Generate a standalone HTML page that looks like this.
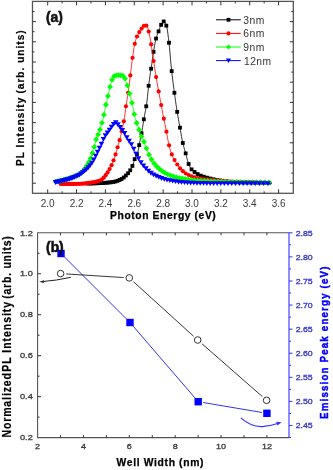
<!DOCTYPE html>
<html><head><meta charset="utf-8"><style>
html,body{margin:0;padding:0;background:#fff;width:333px;height:470px;overflow:hidden}
svg{display:block}
text{font-family:"Liberation Sans",Arial,sans-serif}
.tl{font-size:10px;fill:#3c3c3c}
.lab{font-size:10.3px;font-weight:bold;fill:#000;stroke:#000;stroke-width:0.25px}
.lab2{font-size:11.4px;font-weight:bold;fill:#000;stroke:#000;stroke-width:0.2px}
.blu{fill:#00f;stroke:#00f;stroke-width:0.45px}
.lab3{font-size:11.9px}
.pl{font-size:13.8px;font-weight:bold;fill:#111;stroke:#111;stroke-width:0.55px}
.lg{font-size:10.3px;fill:#333}
.tb{font-size:7.6px;fill:#3a3a3a;stroke:#3a3a3a;stroke-width:0.3px}
.tbr{fill:#33c;stroke:#33c}
</style></head><body>
<svg width="333" height="470" viewBox="0 0 333 470">
<rect x="32.5" y="1.4" width="260.8" height="191.9" fill="none" stroke="#555" stroke-width="1.3"/>
<path d="M47.7,193.3 v-4 M47.7,1.4 v4 M62.13,193.3 v-2 M62.13,1.4 v2 M76.56,193.3 v-4 M76.56,1.4 v4 M90.99,193.3 v-2 M90.99,1.4 v2 M105.42,193.3 v-4 M105.42,1.4 v4 M119.85,193.3 v-2 M119.85,1.4 v2 M134.28,193.3 v-4 M134.28,1.4 v4 M148.71,193.3 v-2 M148.71,1.4 v2 M163.14,193.3 v-4 M163.14,1.4 v4 M177.57,193.3 v-2 M177.57,1.4 v2 M192,193.3 v-4 M192,1.4 v4 M206.43,193.3 v-2 M206.43,1.4 v2 M220.86,193.3 v-4 M220.86,1.4 v4 M235.29,193.3 v-2 M235.29,1.4 v2 M249.72,193.3 v-4 M249.72,1.4 v4 M264.15,193.3 v-2 M264.15,1.4 v2 M278.58,193.3 v-4 M278.58,1.4 v4 M32.5,183.2 h3.4 M293.3,183.2 h-3.4 M32.5,173.1 h2 M293.3,173.1 h-2 M32.5,163 h3.4 M293.3,163 h-3.4 M32.5,152.9 h2 M293.3,152.9 h-2 M32.5,142.8 h3.4 M293.3,142.8 h-3.4 M32.5,132.7 h2 M293.3,132.7 h-2 M32.5,122.6 h3.4 M293.3,122.6 h-3.4 M32.5,112.5 h2 M293.3,112.5 h-2 M32.5,102.4 h3.4 M293.3,102.4 h-3.4 M32.5,92.3 h2 M293.3,92.3 h-2 M32.5,82.2 h3.4 M293.3,82.2 h-3.4 M32.5,72.1 h2 M293.3,72.1 h-2 M32.5,62 h3.4 M293.3,62 h-3.4 M32.5,51.9 h2 M293.3,51.9 h-2 M32.5,41.8 h3.4 M293.3,41.8 h-3.4 M32.5,31.7 h2 M293.3,31.7 h-2 M32.5,21.6 h3.4 M293.3,21.6 h-3.4 M32.5,11.5 h2 M293.3,11.5 h-2" stroke="#333" stroke-width="1" fill="none"/>
<text x="40.8" y="206.6" class="tl" textLength="13.8" lengthAdjust="spacing">2.0</text>
<text x="69.66" y="206.6" class="tl" textLength="13.8" lengthAdjust="spacing">2.2</text>
<text x="98.52" y="206.6" class="tl" textLength="13.8" lengthAdjust="spacing">2.4</text>
<text x="127.38" y="206.6" class="tl" textLength="13.8" lengthAdjust="spacing">2.6</text>
<text x="156.24" y="206.6" class="tl" textLength="13.8" lengthAdjust="spacing">2.8</text>
<text x="185.1" y="206.6" class="tl" textLength="13.8" lengthAdjust="spacing">3.0</text>
<text x="213.96" y="206.6" class="tl" textLength="13.8" lengthAdjust="spacing">3.2</text>
<text x="242.82" y="206.6" class="tl" textLength="13.8" lengthAdjust="spacing">3.4</text>
<text x="271.68" y="206.6" class="tl" textLength="13.8" lengthAdjust="spacing">3.6</text>
<text x="110.1" y="218.5" class="lab" textLength="105.7" lengthAdjust="spacing">Photon Energy (eV)</text>
<text transform="translate(24.4,166) rotate(-90) scale(0.88,1)" class="lab2" textLength="77.6" lengthAdjust="spacing">PL Intensity</text>
<text transform="translate(24.4,93.6) rotate(-90) scale(0.88,1)" class="lab2" textLength="71.9" lengthAdjust="spacing">(arb. units)</text>
<text x="45.9" y="21.7" class="pl">(a)</text>
<path d="M86,183.5 L86.5,183.5 L87,183.5 L87.5,183.49 L88,183.49 L88.5,183.48 L89,183.48 L89.5,183.47 L90,183.46 L90.5,183.45 L91,183.44 L91.5,183.42 L92,183.41 L92.5,183.39 L93,183.38 L93.5,183.36 L94,183.34 L94.5,183.33 L95,183.31 L95.5,183.29 L96,183.26 L96.5,183.24 L97,183.22 L97.5,183.2 L98,183.17 L98.5,183.15 L99,183.13 L99.5,183.1 L100,183.08 L100.5,183.05 L101,183.02 L101.5,183 L102,182.97 L102.5,182.94 L103,182.91 L103.5,182.89 L104,182.86 L104.5,182.83 L105,182.8 L105.5,182.77 L106,182.74 L106.5,182.71 L107,182.67 L107.5,182.63 L108,182.59 L108.5,182.55 L109,182.5 L109.5,182.45 L110,182.4 L110.5,182.35 L111,182.29 L111.5,182.23 L112,182.16 L112.5,182.09 L113,182.02 L113.5,181.93 L114,181.84 L114.5,181.73 L115,181.61 L115.5,181.48 L116,181.33 L116.5,181.17 L117,181 L117.5,180.82 L118,180.63 L118.5,180.43 L119,180.22 L119.5,180 L120,179.78 L120.5,179.54 L121,179.3 L121.5,179.04 L122,178.75 L122.5,178.42 L123,178.06 L123.5,177.68 L124,177.26 L124.5,176.82 L125,176.36 L125.5,175.89 L126,175.4 L126.5,174.9 L127,174.39 L127.5,173.85 L128,173.28 L128.5,172.68 L129,172.03 L129.5,171.35 L130,170.61 L130.5,169.83 L131,168.98 L131.5,168.01 L132,166.92 L132.5,165.74 L133,164.46 L133.5,163 L134,161.27 L134.5,159.59 L135,158.21 L135.5,157.07 L136,156.06 L136.5,155.08 L137,154.04 L137.5,152.82 L138,151.34 L138.5,149.26 L139,146.39 L139.5,143.28 L140,140.49 L140.5,138.07 L141,135.75 L141.5,133.35 L142,130.7 L142.5,127.76 L143,124.66 L143.5,121.53 L144,118.5 L144.5,115.7 L145,113.06 L145.5,110.44 L146,107.67 L146.5,104.63 L147,101.1 L147.5,96.7 L148,91.82 L148.5,87.02 L149,82.83 L149.5,79.14 L150,75.71 L150.5,72.42 L151,69.17 L151.5,65.87 L152,62.44 L152.5,58.91 L153,55.41 L153.5,52.06 L154,49 L154.5,46.14 L155,43.38 L155.5,40.85 L156,38.66 L156.5,36.87 L157,35.34 L157.5,33.98 L158,32.72 L158.5,31.49 L159,30.2 L159.5,28.79 L160,27.35 L160.5,26.04 L161,25 L161.5,24.15 L162,23.32 L162.5,22.57 L163,21.96 L163.5,21.55 L164,21.4 L164.5,21.65 L165,22.34 L165.5,23.38 L166,24.69 L166.5,26.17 L167,27.98 L167.5,30.82 L168,34.48 L168.5,38.62 L169,42.9 L169.5,47.71 L170,53.31 L170.5,59.15 L171,64.72 L171.5,69.54 L172,73.94 L172.5,78.11 L173,82.09 L173.5,85.95 L174,89.75 L174.5,93.5 L175,97.19 L175.5,100.79 L176,104.28 L176.5,107.63 L177,110.83 L177.5,113.86 L178,116.76 L178.5,119.56 L179,122.31 L179.5,125.05 L180,127.8 L180.5,130.64 L181,133.53 L181.5,136.39 L182,139.11 L182.5,141.59 L183,143.78 L183.5,145.75 L184,147.58 L184.5,149.31 L185,151 L185.5,152.7 L186,154.47 L186.5,156.37 L187,158.45 L187.5,160.51 L188,162.32 L188.5,163.71 L189,164.92 L189.5,166.02 L190,167.01 L190.5,167.89 L191,168.65 L191.5,169.3 L192,169.86 L192.5,170.35 L193,170.8 L193.5,171.21 L194,171.58 L194.5,171.94 L195,172.29 L195.5,172.64 L196,172.99 L196.5,173.32 L197,173.65 L197.5,173.96 L198,174.26 L198.5,174.55 L199,174.81 L199.5,175.06 L200,175.29 L200.5,175.5 L201,175.71 L201.5,175.9 L202,176.09 L202.5,176.27 L203,176.44 L203.5,176.6 L204,176.76 L204.5,176.92 L205,177.07 L205.5,177.22 L206,177.37 L206.5,177.51 L207,177.66 L207.5,177.8 L208,177.93 L208.5,178.07 L209,178.2 L209.5,178.33 L210,178.46 L210.5,178.58 L211,178.71 L211.5,178.82 L212,178.94 L212.5,179.05 L213,179.16 L213.5,179.26 L214,179.36 L214.5,179.46 L215,179.56 L215.5,179.65 L216,179.75 L216.5,179.85 L217,179.94 L217.5,180.04 L218,180.13 L218.5,180.23 L219,180.32 L219.5,180.41 L220,180.51 L220.5,180.59 L221,180.68 L221.5,180.77 L222,180.85 L222.5,180.93 L223,181.01 L223.5,181.09 L224,181.16 L224.5,181.24 L225,181.3 L225.5,181.37 L226,181.43 L226.5,181.49 L227,181.55 L227.5,181.6 L228,181.65 L228.5,181.69 L229,181.73 L229.5,181.77 L230,181.8 L230.5,181.83 L231,181.86 L231.5,181.88 L232,181.91 L232.5,181.93 L233,181.96 L233.5,181.98 L234,182 L234.5,182.03 L235,182.05 L235.5,182.07 L236,182.09 L236.5,182.11 L237,182.13 L237.5,182.14 L238,182.16 L238.5,182.18 L239,182.19 L239.5,182.21 L240,182.23 L240.5,182.24 L241,182.26 L241.5,182.27 L242,182.29 L242.5,182.3 L243,182.31 L243.5,182.33 L244,182.34 L244.5,182.35 L245,182.37 L245.5,182.38 L246,182.39 L246.5,182.41 L247,182.42 L247.5,182.43 L248,182.45 L248.5,182.46 L249,182.47 L249.5,182.49 L250,182.5 L250.5,182.51 L251,182.53 L251.5,182.54 L252,182.55 L252.5,182.57 L253,182.58 L253.5,182.59 L254,182.61 L254.5,182.62 L255,182.63 L255.5,182.65 L256,182.66 L256.5,182.67 L257,182.68 L257.5,182.7 L258,182.71 L258.5,182.72 L259,182.73 L259.5,182.75 L260,182.76 L260.5,182.77 L261,182.78 L261.5,182.79 L262,182.8 L262.5,182.82 L263,182.83 L263.5,182.84 L264,182.85 L264.5,182.86 L265,182.87 L265.5,182.88 L266,182.89 L266.5,182.9 L267,182.91 L267.5,182.92 L268,182.93 L268.5,182.94 L269,182.95 L269.5,182.96 L270,182.97 L270.5,182.97 L271,182.98 L271.5,182.99 L272,183" fill="none" stroke="#000" stroke-width="0.8"/>
<rect x="85.61" y="181.59" width="3.8" height="3.8" fill="#000"/>
<rect x="87.34" y="181.57" width="3.8" height="3.8" fill="#000"/>
<rect x="89.08" y="181.54" width="3.8" height="3.8" fill="#000"/>
<rect x="90.85" y="181.49" width="3.8" height="3.8" fill="#000"/>
<rect x="92.63" y="181.42" width="3.8" height="3.8" fill="#000"/>
<rect x="94.43" y="181.35" width="3.8" height="3.8" fill="#000"/>
<rect x="96.25" y="181.27" width="3.8" height="3.8" fill="#000"/>
<rect x="98.09" y="181.18" width="3.8" height="3.8" fill="#000"/>
<rect x="99.95" y="181.08" width="3.8" height="3.8" fill="#000"/>
<rect x="101.83" y="180.97" width="3.8" height="3.8" fill="#000"/>
<rect x="103.74" y="180.86" width="3.8" height="3.8" fill="#000"/>
<rect x="105.66" y="180.73" width="3.8" height="3.8" fill="#000"/>
<rect x="107.6" y="180.55" width="3.8" height="3.8" fill="#000"/>
<rect x="109.57" y="180.33" width="3.8" height="3.8" fill="#000"/>
<rect x="111.56" y="180.04" width="3.8" height="3.8" fill="#000"/>
<rect x="113.57" y="179.58" width="3.8" height="3.8" fill="#000"/>
<rect x="115.61" y="178.92" width="3.8" height="3.8" fill="#000"/>
<rect x="117.66" y="178.08" width="3.8" height="3.8" fill="#000"/>
<rect x="119.75" y="177.06" width="3.8" height="3.8" fill="#000"/>
<rect x="121.85" y="175.57" width="3.8" height="3.8" fill="#000"/>
<rect x="123.98" y="173.62" width="3.8" height="3.8" fill="#000"/>
<rect x="126.14" y="171.34" width="3.8" height="3.8" fill="#000"/>
<rect x="128.32" y="168.38" width="3.8" height="3.8" fill="#000"/>
<rect x="130.52" y="164.03" width="3.8" height="3.8" fill="#000"/>
<rect x="132.76" y="157.22" width="3.8" height="3.8" fill="#000"/>
<rect x="135.02" y="152.32" width="3.8" height="3.8" fill="#000"/>
<rect x="137.3" y="143.21" width="3.8" height="3.8" fill="#000"/>
<rect x="139.62" y="131.35" width="3.8" height="3.8" fill="#000"/>
<rect x="141.96" y="117.41" width="3.8" height="3.8" fill="#000"/>
<rect x="144.34" y="104.38" width="3.8" height="3.8" fill="#000"/>
<rect x="146.74" y="83.88" width="3.8" height="3.8" fill="#000"/>
<rect x="149.17" y="66.82" width="3.8" height="3.8" fill="#000"/>
<rect x="151.63" y="49.95" width="3.8" height="3.8" fill="#000"/>
<rect x="154.13" y="36.66" width="3.8" height="3.8" fill="#000"/>
<rect x="156.65" y="29.46" width="3.8" height="3.8" fill="#000"/>
<rect x="159.21" y="22.92" width="3.8" height="3.8" fill="#000"/>
<rect x="161.8" y="19.56" width="3.8" height="3.8" fill="#000"/>
<rect x="164.42" y="23.74" width="3.8" height="3.8" fill="#000"/>
<rect x="167.08" y="40.85" width="3.8" height="3.8" fill="#000"/>
<rect x="169.78" y="69.22" width="3.8" height="3.8" fill="#000"/>
<rect x="172.51" y="90.9" width="3.8" height="3.8" fill="#000"/>
<rect x="175.27" y="109.98" width="3.8" height="3.8" fill="#000"/>
<rect x="178.07" y="125.75" width="3.8" height="3.8" fill="#000"/>
<rect x="180.91" y="141.1" width="3.8" height="3.8" fill="#000"/>
<rect x="183.79" y="151.47" width="3.8" height="3.8" fill="#000"/>
<rect x="186.71" y="162.09" width="3.8" height="3.8" fill="#000"/>
<rect x="189.67" y="167.48" width="3.8" height="3.8" fill="#000"/>
<rect x="192.67" y="170.09" width="3.8" height="3.8" fill="#000"/>
<rect x="195.71" y="172.13" width="3.8" height="3.8" fill="#000"/>
<rect x="198.8" y="173.69" width="3.8" height="3.8" fill="#000"/>
<rect x="201.92" y="174.81" width="3.8" height="3.8" fill="#000"/>
<rect x="205.1" y="175.76" width="3.8" height="3.8" fill="#000"/>
<rect x="208.31" y="176.61" width="3.8" height="3.8" fill="#000"/>
<rect x="211.58" y="177.36" width="3.8" height="3.8" fill="#000"/>
<rect x="214.89" y="178" width="3.8" height="3.8" fill="#000"/>
<rect x="218.25" y="178.63" width="3.8" height="3.8" fill="#000"/>
<rect x="221.66" y="179.2" width="3.8" height="3.8" fill="#000"/>
<rect x="225.13" y="179.65" width="3.8" height="3.8" fill="#000"/>
<rect x="228.64" y="179.93" width="3.8" height="3.8" fill="#000"/>
<rect x="232.21" y="180.11" width="3.8" height="3.8" fill="#000"/>
<rect x="235.83" y="180.25" width="3.8" height="3.8" fill="#000"/>
<rect x="239.5" y="180.37" width="3.8" height="3.8" fill="#000"/>
<rect x="243.24" y="180.47" width="3.8" height="3.8" fill="#000"/>
<rect x="247.03" y="180.57" width="3.8" height="3.8" fill="#000"/>
<rect x="250.88" y="180.68" width="3.8" height="3.8" fill="#000"/>
<rect x="254.79" y="180.78" width="3.8" height="3.8" fill="#000"/>
<rect x="258.77" y="180.87" width="3.8" height="3.8" fill="#000"/>
<rect x="262.81" y="180.96" width="3.8" height="3.8" fill="#000"/>
<rect x="266.91" y="181.04" width="3.8" height="3.8" fill="#000"/>
<path d="M60,184 L60.5,184 L61,184 L61.5,184 L62,184 L62.5,184 L63,184 L63.5,183.99 L64,183.99 L64.5,183.99 L65,183.99 L65.5,183.98 L66,183.98 L66.5,183.98 L67,183.98 L67.5,183.97 L68,183.97 L68.5,183.96 L69,183.96 L69.5,183.95 L70,183.95 L70.5,183.94 L71,183.94 L71.5,183.93 L72,183.93 L72.5,183.92 L73,183.92 L73.5,183.91 L74,183.9 L74.5,183.89 L75,183.89 L75.5,183.88 L76,183.87 L76.5,183.86 L77,183.86 L77.5,183.85 L78,183.84 L78.5,183.83 L79,183.82 L79.5,183.81 L80,183.8 L80.5,183.79 L81,183.77 L81.5,183.74 L82,183.72 L82.5,183.68 L83,183.64 L83.5,183.6 L84,183.55 L84.5,183.5 L85,183.45 L85.5,183.39 L86,183.33 L86.5,183.27 L87,183.21 L87.5,183.14 L88,183.08 L88.5,183.01 L89,182.94 L89.5,182.87 L90,182.8 L90.5,182.73 L91,182.66 L91.5,182.58 L92,182.5 L92.5,182.42 L93,182.34 L93.5,182.25 L94,182.15 L94.5,182.05 L95,181.95 L95.5,181.84 L96,181.72 L96.5,181.6 L97,181.47 L97.5,181.33 L98,181.18 L98.5,181.02 L99,180.86 L99.5,180.68 L100,180.5 L100.5,180.28 L101,180 L101.5,179.67 L102,179.3 L102.5,178.9 L103,178.46 L103.5,178 L104,177.47 L104.5,176.85 L105,176.17 L105.5,175.48 L106,174.79 L106.5,174.09 L107,173.37 L107.5,172.63 L108,171.85 L108.5,171.03 L109,170.17 L109.5,169.27 L110,168.32 L110.5,167.33 L111,166.31 L111.5,165.24 L112,164.12 L112.5,162.95 L113,161.72 L113.5,160.44 L114,159.08 L114.5,157.66 L115,156.16 L115.5,154.6 L116,152.94 L116.5,151.19 L117,149.38 L117.5,147.57 L118,145.8 L118.5,144.1 L119,142.4 L119.5,140.65 L120,138.79 L120.5,136.76 L121,134.56 L121.5,132.26 L122,129.91 L122.5,127.58 L123,125.32 L123.5,123 L124,120.43 L124.5,117.38 L125,113.65 L125.5,109.7 L126,106 L126.5,102.75 L127,99.72 L127.5,96.71 L128,93.55 L128.5,90.05 L129,86.17 L129.5,82.06 L130,77.88 L130.5,73.8 L131,69.76 L131.5,65.68 L132,61.69 L132.5,57.92 L133,54.4 L133.5,50.93 L134,47.7 L134.5,44.93 L135,42.74 L135.5,40.86 L136,39.22 L136.5,37.78 L137,36.51 L137.5,35.38 L138,34.36 L138.5,33.43 L139,32.54 L139.5,31.7 L140,30.91 L140.5,30.16 L141,29.44 L141.5,28.74 L142,28 L142.5,27.23 L143,26.56 L143.5,26.13 L144,25.82 L144.5,25.55 L145,25.37 L145.5,25.3 L146,25.39 L146.5,25.64 L147,26 L147.5,26.94 L148,28.63 L148.5,30.61 L149,32.67 L149.5,35.07 L150,37.74 L150.5,40.58 L151,43.5 L151.5,46.58 L152,49.91 L152.5,53.36 L153,56.81 L153.5,60.16 L154,63.47 L154.5,66.78 L155,70.05 L155.5,73.24 L156,76.31 L156.5,79.29 L157,82.19 L157.5,85.04 L158,87.83 L158.5,90.6 L159,93.3 L159.5,95.95 L160,98.59 L160.5,101.23 L161,103.91 L161.5,106.63 L162,109.35 L162.5,112.05 L163,114.68 L163.5,117.23 L164,119.7 L164.5,122.12 L165,124.54 L165.5,126.98 L166,129.49 L166.5,132.13 L167,134.92 L167.5,137.72 L168,140.37 L168.5,142.75 L169,144.96 L169.5,147.06 L170,149.01 L170.5,150.76 L171,152.29 L171.5,153.66 L172,154.93 L172.5,156.1 L173,157.19 L173.5,158.21 L174,159.18 L174.5,160.07 L175,160.91 L175.5,161.7 L176,162.47 L176.5,163.24 L177,164.04 L177.5,164.85 L178,165.66 L178.5,166.43 L179,167.15 L179.5,167.8 L180,168.38 L180.5,168.92 L181,169.42 L181.5,169.9 L182,170.35 L182.5,170.8 L183,171.24 L183.5,171.68 L184,172.1 L184.5,172.51 L185,172.9 L185.5,173.27 L186,173.61 L186.5,173.92 L187,174.21 L187.5,174.48 L188,174.74 L188.5,174.99 L189,175.22 L189.5,175.45 L190,175.67 L190.5,175.88 L191,176.08 L191.5,176.28 L192,176.49 L192.5,176.68 L193,176.87 L193.5,177.06 L194,177.23 L194.5,177.4 L195,177.55 L195.5,177.68 L196,177.8 L196.5,177.91 L197,178.01 L197.5,178.1 L198,178.19 L198.5,178.28 L199,178.36 L199.5,178.43 L200,178.51 L200.5,178.58 L201,178.64 L201.5,178.71 L202,178.77 L202.5,178.84 L203,178.9 L203.5,178.96 L204,179.02 L204.5,179.08 L205,179.14 L205.5,179.2 L206,179.25 L206.5,179.31 L207,179.36 L207.5,179.41 L208,179.46 L208.5,179.51 L209,179.56 L209.5,179.61 L210,179.66 L210.5,179.71 L211,179.75 L211.5,179.8 L212,179.85 L212.5,179.89 L213,179.94 L213.5,179.98 L214,180.03 L214.5,180.07 L215,180.11 L215.5,180.16 L216,180.2 L216.5,180.24 L217,180.29 L217.5,180.33 L218,180.38 L218.5,180.42 L219,180.47 L219.5,180.51 L220,180.56 L220.5,180.61 L221,180.65 L221.5,180.7 L222,180.74 L222.5,180.79 L223,180.84 L223.5,180.88 L224,180.93 L224.5,180.97 L225,181.02 L225.5,181.06 L226,181.11 L226.5,181.15 L227,181.2 L227.5,181.24 L228,181.28 L228.5,181.32 L229,181.36 L229.5,181.4 L230,181.44 L230.5,181.48 L231,181.52 L231.5,181.56 L232,181.59 L232.5,181.63 L233,181.66 L233.5,181.69 L234,181.73 L234.5,181.76 L235,181.79 L235.5,181.81 L236,181.84 L236.5,181.87 L237,181.89 L237.5,181.91 L238,181.93 L238.5,181.95 L239,181.97 L239.5,181.99 L240,182 L240.5,182.01 L241,182.03 L241.5,182.04 L242,182.05 L242.5,182.07 L243,182.08 L243.5,182.09 L244,182.1 L244.5,182.12 L245,182.13 L245.5,182.14 L246,182.15 L246.5,182.16 L247,182.18 L247.5,182.19 L248,182.2 L248.5,182.21 L249,182.22 L249.5,182.23 L250,182.24 L250.5,182.25 L251,182.26 L251.5,182.27 L252,182.28 L252.5,182.29 L253,182.3 L253.5,182.31 L254,182.32 L254.5,182.33 L255,182.34 L255.5,182.35 L256,182.36 L256.5,182.37 L257,182.37 L257.5,182.38 L258,182.39 L258.5,182.4 L259,182.4 L259.5,182.41 L260,182.42 L260.5,182.42 L261,182.43 L261.5,182.44 L262,182.44 L262.5,182.45 L263,182.45 L263.5,182.46 L264,182.46 L264.5,182.47 L265,182.47 L265.5,182.47 L266,182.48 L266.5,182.48 L267,182.48 L267.5,182.49 L268,182.49 L268.5,182.49 L269,182.49 L269.5,182.5 L270,182.5 L270.5,182.5 L271,182.5 L271.5,182.5 L272,182.5" fill="none" stroke="#f00" stroke-width="0.8"/>
<circle cx="60.75" cy="184" r="2.1" fill="#f00"/>
<circle cx="62.2" cy="184" r="2.1" fill="#f00"/>
<circle cx="63.67" cy="183.99" r="2.1" fill="#f00"/>
<circle cx="65.16" cy="183.99" r="2.1" fill="#f00"/>
<circle cx="66.66" cy="183.98" r="2.1" fill="#f00"/>
<circle cx="68.17" cy="183.97" r="2.1" fill="#f00"/>
<circle cx="69.7" cy="183.95" r="2.1" fill="#f00"/>
<circle cx="71.24" cy="183.94" r="2.1" fill="#f00"/>
<circle cx="72.8" cy="183.92" r="2.1" fill="#f00"/>
<circle cx="74.38" cy="183.9" r="2.1" fill="#f00"/>
<circle cx="75.97" cy="183.87" r="2.1" fill="#f00"/>
<circle cx="77.58" cy="183.85" r="2.1" fill="#f00"/>
<circle cx="79.2" cy="183.82" r="2.1" fill="#f00"/>
<circle cx="80.84" cy="183.77" r="2.1" fill="#f00"/>
<circle cx="82.5" cy="183.68" r="2.1" fill="#f00"/>
<circle cx="84.17" cy="183.54" r="2.1" fill="#f00"/>
<circle cx="85.86" cy="183.35" r="2.1" fill="#f00"/>
<circle cx="87.57" cy="183.13" r="2.1" fill="#f00"/>
<circle cx="89.3" cy="182.9" r="2.1" fill="#f00"/>
<circle cx="91.05" cy="182.65" r="2.1" fill="#f00"/>
<circle cx="92.81" cy="182.37" r="2.1" fill="#f00"/>
<circle cx="94.6" cy="182.03" r="2.1" fill="#f00"/>
<circle cx="96.4" cy="181.62" r="2.1" fill="#f00"/>
<circle cx="98.22" cy="181.11" r="2.1" fill="#f00"/>
<circle cx="100.06" cy="180.48" r="2.1" fill="#f00"/>
<circle cx="101.92" cy="179.36" r="2.1" fill="#f00"/>
<circle cx="103.81" cy="177.69" r="2.1" fill="#f00"/>
<circle cx="105.71" cy="175.19" r="2.1" fill="#f00"/>
<circle cx="107.63" cy="172.43" r="2.1" fill="#f00"/>
<circle cx="109.58" cy="169.12" r="2.1" fill="#f00"/>
<circle cx="111.55" cy="165.14" r="2.1" fill="#f00"/>
<circle cx="113.54" cy="160.34" r="2.1" fill="#f00"/>
<circle cx="115.55" cy="154.45" r="2.1" fill="#f00"/>
<circle cx="117.58" cy="147.27" r="2.1" fill="#f00"/>
<circle cx="119.64" cy="140.14" r="2.1" fill="#f00"/>
<circle cx="121.72" cy="131.21" r="2.1" fill="#f00"/>
<circle cx="123.83" cy="121.34" r="2.1" fill="#f00"/>
<circle cx="125.96" cy="106.26" r="2.1" fill="#f00"/>
<circle cx="128.12" cy="92.76" r="2.1" fill="#f00"/>
<circle cx="130.3" cy="75.41" r="2.1" fill="#f00"/>
<circle cx="132.51" cy="57.86" r="2.1" fill="#f00"/>
<circle cx="134.74" cy="43.82" r="2.1" fill="#f00"/>
<circle cx="137" cy="36.5" r="2.1" fill="#f00"/>
<circle cx="139.29" cy="32.04" r="2.1" fill="#f00"/>
<circle cx="141.61" cy="28.59" r="2.1" fill="#f00"/>
<circle cx="143.95" cy="25.85" r="2.1" fill="#f00"/>
<circle cx="146.33" cy="25.54" r="2.1" fill="#f00"/>
<circle cx="148.73" cy="31.51" r="2.1" fill="#f00"/>
<circle cx="151.16" cy="44.47" r="2.1" fill="#f00"/>
<circle cx="153.63" cy="60.99" r="2.1" fill="#f00"/>
<circle cx="156.12" cy="77.04" r="2.1" fill="#f00"/>
<circle cx="158.65" cy="91.4" r="2.1" fill="#f00"/>
<circle cx="161.21" cy="105.03" r="2.1" fill="#f00"/>
<circle cx="163.8" cy="118.71" r="2.1" fill="#f00"/>
<circle cx="166.42" cy="131.72" r="2.1" fill="#f00"/>
<circle cx="169.08" cy="145.32" r="2.1" fill="#f00"/>
<circle cx="171.78" cy="154.38" r="2.1" fill="#f00"/>
<circle cx="174.51" cy="160.09" r="2.1" fill="#f00"/>
<circle cx="177.28" cy="164.49" r="2.1" fill="#f00"/>
<circle cx="180.08" cy="168.47" r="2.1" fill="#f00"/>
<circle cx="182.92" cy="171.17" r="2.1" fill="#f00"/>
<circle cx="185.8" cy="173.48" r="2.1" fill="#f00"/>
<circle cx="188.72" cy="175.1" r="2.1" fill="#f00"/>
<circle cx="191.68" cy="176.36" r="2.1" fill="#f00"/>
<circle cx="194.68" cy="177.45" r="2.1" fill="#f00"/>
<circle cx="197.73" cy="178.14" r="2.1" fill="#f00"/>
<circle cx="200.81" cy="178.62" r="2.1" fill="#f00"/>
<circle cx="203.94" cy="179.02" r="2.1" fill="#f00"/>
<circle cx="207.12" cy="179.37" r="2.1" fill="#f00"/>
<circle cx="210.34" cy="179.69" r="2.1" fill="#f00"/>
<circle cx="213.6" cy="179.99" r="2.1" fill="#f00"/>
<circle cx="216.92" cy="180.28" r="2.1" fill="#f00"/>
<circle cx="220.28" cy="180.59" r="2.1" fill="#f00"/>
<circle cx="223.69" cy="180.9" r="2.1" fill="#f00"/>
<circle cx="227.16" cy="181.21" r="2.1" fill="#f00"/>
<circle cx="230.67" cy="181.5" r="2.1" fill="#f00"/>
<circle cx="234.24" cy="181.74" r="2.1" fill="#f00"/>
<circle cx="237.86" cy="181.93" r="2.1" fill="#f00"/>
<circle cx="241.54" cy="182.04" r="2.1" fill="#f00"/>
<circle cx="245.28" cy="182.13" r="2.1" fill="#f00"/>
<circle cx="249.07" cy="182.22" r="2.1" fill="#f00"/>
<circle cx="252.93" cy="182.3" r="2.1" fill="#f00"/>
<circle cx="256.84" cy="182.37" r="2.1" fill="#f00"/>
<circle cx="260.82" cy="182.43" r="2.1" fill="#f00"/>
<circle cx="264.86" cy="182.47" r="2.1" fill="#f00"/>
<circle cx="268.97" cy="182.49" r="2.1" fill="#f00"/>
<path d="M55,181.8 L55.5,181.71 L56,181.62 L56.5,181.53 L57,181.44 L57.5,181.34 L58,181.24 L58.5,181.13 L59,181.03 L59.5,180.92 L60,180.81 L60.5,180.69 L61,180.58 L61.5,180.46 L62,180.34 L62.5,180.21 L63,180.09 L63.5,179.96 L64,179.83 L64.5,179.7 L65,179.57 L65.5,179.44 L66,179.3 L66.5,179.16 L67,179.02 L67.5,178.88 L68,178.73 L68.5,178.58 L69,178.43 L69.5,178.28 L70,178.12 L70.5,177.95 L71,177.79 L71.5,177.61 L72,177.44 L72.5,177.26 L73,177.08 L73.5,176.89 L74,176.7 L74.5,176.5 L75,176.3 L75.5,176.09 L76,175.89 L76.5,175.67 L77,175.45 L77.5,175.21 L78,174.96 L78.5,174.7 L79,174.42 L79.5,174.12 L80,173.8 L80.5,173.44 L81,173.04 L81.5,172.6 L82,172.12 L82.5,171.61 L83,171.07 L83.5,170.5 L84,169.88 L84.5,169.2 L85,168.46 L85.5,167.7 L86,166.91 L86.5,166.13 L87,165.34 L87.5,164.53 L88,163.68 L88.5,162.77 L89,161.8 L89.5,160.74 L90,159.6 L90.5,158.39 L91,157.1 L91.5,155.74 L92,154.23 L92.5,152.63 L93,151 L93.5,149.39 L94,147.74 L94.5,146 L95,144.03 L95.5,141.9 L96,139.87 L96.5,138.2 L97,136.87 L97.5,135.72 L98,134.65 L98.5,133.57 L99,132.39 L99.5,131.03 L100,129.48 L100.5,127.81 L101,126.09 L101.5,124.36 L102,122.6 L102.5,120.76 L103,118.79 L103.5,116.66 L104,114.39 L104.5,112.01 L105,109.42 L105.5,106.78 L106,104.38 L106.5,102.19 L107,100.1 L107.5,98.02 L108,95.86 L108.5,93.54 L109,91.18 L109.5,88.89 L110,86.8 L110.5,84.89 L111,83.08 L111.5,81.43 L112,80 L112.5,78.71 L113,77.58 L113.5,76.8 L114,76.29 L114.5,75.86 L115,75.55 L115.5,75.4 L116,75.34 L116.5,75.29 L117,75.25 L117.5,75.22 L118,75.2 L118.5,75.2 L119,75.21 L119.5,75.22 L120,75.24 L120.5,75.27 L121,75.31 L121.5,75.35 L122,75.4 L122.5,75.53 L123,75.81 L123.5,76.21 L124,76.71 L124.5,77.3 L125,78.34 L125.5,79.9 L126,81.5 L126.5,82.96 L127,84.44 L127.5,85.97 L128,87.6 L128.5,89.35 L129,91.22 L129.5,93.15 L130,95.12 L130.5,97.08 L131,99.04 L131.5,101.02 L132,103.05 L132.5,105.17 L133,107.44 L133.5,110.01 L134,112.72 L134.5,115.3 L135,117.5 L135.5,119.33 L136,121.01 L136.5,122.55 L137,124 L137.5,125.4 L138,126.77 L138.5,128.15 L139,129.57 L139.5,131.01 L140,132.43 L140.5,133.81 L141,135.14 L141.5,136.4 L142,137.56 L142.5,138.64 L143,139.68 L143.5,140.72 L144,141.81 L144.5,142.98 L145,144.26 L145.5,145.61 L146,147.02 L146.5,148.44 L147,149.84 L147.5,151.2 L148,152.48 L148.5,153.66 L149,154.71 L149.5,155.71 L150,156.68 L150.5,157.61 L151,158.52 L151.5,159.4 L152,160.24 L152.5,161.04 L153,161.81 L153.5,162.55 L154,163.24 L154.5,163.89 L155,164.5 L155.5,165.08 L156,165.64 L156.5,166.18 L157,166.7 L157.5,167.21 L158,167.69 L158.5,168.16 L159,168.62 L159.5,169.05 L160,169.47 L160.5,169.88 L161,170.27 L161.5,170.65 L162,171.01 L162.5,171.36 L163,171.7 L163.5,172.03 L164,172.34 L164.5,172.65 L165,172.95 L165.5,173.23 L166,173.51 L166.5,173.77 L167,174.02 L167.5,174.26 L168,174.49 L168.5,174.7 L169,174.9 L169.5,175.09 L170,175.28 L170.5,175.46 L171,175.64 L171.5,175.81 L172,175.98 L172.5,176.15 L173,176.31 L173.5,176.46 L174,176.62 L174.5,176.77 L175,176.91 L175.5,177.05 L176,177.19 L176.5,177.32 L177,177.45 L177.5,177.57 L178,177.69 L178.5,177.8 L179,177.91 L179.5,178.02 L180,178.12 L180.5,178.21 L181,178.3 L181.5,178.39 L182,178.47 L182.5,178.56 L183,178.64 L183.5,178.72 L184,178.8 L184.5,178.88 L185,178.96 L185.5,179.04 L186,179.11 L186.5,179.19 L187,179.26 L187.5,179.33 L188,179.4 L188.5,179.47 L189,179.54 L189.5,179.6 L190,179.67 L190.5,179.73 L191,179.79 L191.5,179.85 L192,179.91 L192.5,179.96 L193,180.02 L193.5,180.07 L194,180.12 L194.5,180.17 L195,180.22 L195.5,180.26 L196,180.31 L196.5,180.35 L197,180.39 L197.5,180.43 L198,180.47 L198.5,180.5 L199,180.54 L199.5,180.57 L200,180.6 L200.5,180.63 L201,180.66 L201.5,180.69 L202,180.71 L202.5,180.74 L203,180.77 L203.5,180.8 L204,180.82 L204.5,180.85 L205,180.87 L205.5,180.9 L206,180.93 L206.5,180.95 L207,180.98 L207.5,181 L208,181.02 L208.5,181.05 L209,181.07 L209.5,181.1 L210,181.12 L210.5,181.14 L211,181.16 L211.5,181.19 L212,181.21 L212.5,181.23 L213,181.25 L213.5,181.27 L214,181.29 L214.5,181.31 L215,181.33 L215.5,181.35 L216,181.37 L216.5,181.39 L217,181.41 L217.5,181.43 L218,181.45 L218.5,181.47 L219,181.48 L219.5,181.5 L220,181.52 L220.5,181.54 L221,181.55 L221.5,181.57 L222,181.58 L222.5,181.6 L223,181.62 L223.5,181.63 L224,181.65 L224.5,181.66 L225,181.68 L225.5,181.69 L226,181.7 L226.5,181.72 L227,181.73 L227.5,181.75 L228,181.76 L228.5,181.77 L229,181.78 L229.5,181.8 L230,181.81 L230.5,181.82 L231,181.83 L231.5,181.84 L232,181.85 L232.5,181.87 L233,181.88 L233.5,181.89 L234,181.9 L234.5,181.91 L235,181.92 L235.5,181.93 L236,181.93 L236.5,181.94 L237,181.95 L237.5,181.96 L238,181.97 L238.5,181.98 L239,181.99 L239.5,181.99 L240,182 L240.5,182.01 L241,182.01 L241.5,182.02 L242,182.03 L242.5,182.04 L243,182.04 L243.5,182.05 L244,182.06 L244.5,182.06 L245,182.07 L245.5,182.08 L246,182.09 L246.5,182.09 L247,182.1 L247.5,182.11 L248,182.11 L248.5,182.12 L249,182.13 L249.5,182.13 L250,182.14 L250.5,182.14 L251,182.15 L251.5,182.16 L252,182.16 L252.5,182.17 L253,182.17 L253.5,182.18 L254,182.19 L254.5,182.19 L255,182.2 L255.5,182.2 L256,182.21 L256.5,182.21 L257,182.22 L257.5,182.22 L258,182.23 L258.5,182.23 L259,182.24 L259.5,182.24 L260,182.25 L260.5,182.25 L261,182.25 L261.5,182.26 L262,182.26 L262.5,182.27 L263,182.27 L263.5,182.27 L264,182.27 L264.5,182.28 L265,182.28 L265.5,182.28 L266,182.29 L266.5,182.29 L267,182.29 L267.5,182.29 L268,182.29 L268.5,182.29 L269,182.3 L269.5,182.3 L270,182.3 L270.5,182.3 L271,182.3 L271.5,182.3 L272,182.3" fill="none" stroke="#0f0" stroke-width="0.8"/>
<path d="M55.87,178.75 L58.77,181.65 L55.87,184.55 L52.97,181.65Z" fill="#0f0"/>
<path d="M57.36,178.47 L60.26,181.37 L57.36,184.27 L54.46,181.37Z" fill="#0f0"/>
<path d="M58.86,178.16 L61.76,181.06 L58.86,183.96 L55.96,181.06Z" fill="#0f0"/>
<path d="M60.37,177.82 L63.27,180.72 L60.37,183.62 L57.47,180.72Z" fill="#0f0"/>
<path d="M61.9,177.46 L64.8,180.36 L61.9,183.26 L59,180.36Z" fill="#0f0"/>
<path d="M63.45,177.07 L66.35,179.97 L63.45,182.87 L60.55,179.97Z" fill="#0f0"/>
<path d="M65.01,176.67 L67.91,179.57 L65.01,182.47 L62.11,179.57Z" fill="#0f0"/>
<path d="M66.58,176.24 L69.48,179.14 L66.58,182.04 L63.68,179.14Z" fill="#0f0"/>
<path d="M68.18,175.78 L71.08,178.68 L68.18,181.58 L65.28,178.68Z" fill="#0f0"/>
<path d="M69.79,175.28 L72.69,178.18 L69.79,181.08 L66.89,178.18Z" fill="#0f0"/>
<path d="M71.41,174.74 L74.31,177.64 L71.41,180.54 L68.51,177.64Z" fill="#0f0"/>
<path d="M73.06,174.16 L75.96,177.06 L73.06,179.96 L70.16,177.06Z" fill="#0f0"/>
<path d="M74.72,173.51 L77.62,176.41 L74.72,179.31 L71.82,176.41Z" fill="#0f0"/>
<path d="M76.4,172.81 L79.3,175.71 L76.4,178.61 L73.5,175.71Z" fill="#0f0"/>
<path d="M78.1,172.01 L81,174.91 L78.1,177.81 L75.2,174.91Z" fill="#0f0"/>
<path d="M79.81,171.02 L82.71,173.92 L79.81,176.82 L76.91,173.92Z" fill="#0f0"/>
<path d="M81.54,169.66 L84.44,172.56 L81.54,175.46 L78.64,172.56Z" fill="#0f0"/>
<path d="M83.3,167.83 L86.2,170.73 L83.3,173.63 L80.4,170.73Z" fill="#0f0"/>
<path d="M85.07,165.46 L87.97,168.36 L85.07,171.26 L82.17,168.36Z" fill="#0f0"/>
<path d="M86.86,162.66 L89.76,165.56 L86.86,168.46 L83.96,165.56Z" fill="#0f0"/>
<path d="M88.67,159.55 L91.57,162.45 L88.67,165.35 L85.77,162.45Z" fill="#0f0"/>
<path d="M90.5,155.48 L93.4,158.38 L90.5,161.28 L87.6,158.38Z" fill="#0f0"/>
<path d="M92.35,150.2 L95.25,153.1 L92.35,156 L89.45,153.1Z" fill="#0f0"/>
<path d="M94.23,144.06 L97.13,146.96 L94.23,149.86 L91.33,146.96Z" fill="#0f0"/>
<path d="M96.12,136.53 L99.02,139.43 L96.12,142.33 L93.22,139.43Z" fill="#0f0"/>
<path d="M98.04,131.67 L100.94,134.57 L98.04,137.47 L95.14,134.57Z" fill="#0f0"/>
<path d="M99.97,126.67 L102.87,129.57 L99.97,132.47 L97.07,129.57Z" fill="#0f0"/>
<path d="M101.93,119.94 L104.83,122.84 L101.93,125.74 L99.03,122.84Z" fill="#0f0"/>
<path d="M103.91,111.89 L106.81,114.79 L103.91,117.69 L101.01,114.79Z" fill="#0f0"/>
<path d="M105.92,101.85 L108.82,104.75 L105.92,107.65 L103.02,104.75Z" fill="#0f0"/>
<path d="M107.95,93.19 L110.85,96.09 L107.95,98.99 L105.05,96.09Z" fill="#0f0"/>
<path d="M110,83.9 L112.9,86.8 L110,89.7 L107.1,86.8Z" fill="#0f0"/>
<path d="M112.08,76.9 L114.98,79.8 L112.08,82.7 L109.18,79.8Z" fill="#0f0"/>
<path d="M114.18,73.23 L117.08,76.13 L114.18,79.03 L111.28,76.13Z" fill="#0f0"/>
<path d="M116.3,72.41 L119.2,75.31 L116.3,78.21 L113.4,75.31Z" fill="#0f0"/>
<path d="M118.46,72.3 L121.36,75.2 L118.46,78.1 L115.56,75.2Z" fill="#0f0"/>
<path d="M120.63,72.38 L123.53,75.28 L120.63,78.18 L117.73,75.28Z" fill="#0f0"/>
<path d="M122.84,72.8 L125.74,75.7 L122.84,78.6 L119.94,75.7Z" fill="#0f0"/>
<path d="M125.07,75.65 L127.97,78.55 L125.07,81.45 L122.17,78.55Z" fill="#0f0"/>
<path d="M127.33,82.55 L130.23,85.45 L127.33,88.35 L124.43,85.45Z" fill="#0f0"/>
<path d="M129.62,90.72 L132.52,93.62 L129.62,96.52 L126.72,93.62Z" fill="#0f0"/>
<path d="M131.93,99.88 L134.83,102.78 L131.93,105.68 L129.03,102.78Z" fill="#0f0"/>
<path d="M134.28,111.29 L137.18,114.19 L134.28,117.09 L131.38,114.19Z" fill="#0f0"/>
<path d="M136.65,120.11 L139.55,123.01 L136.65,125.91 L133.75,123.01Z" fill="#0f0"/>
<path d="M139.06,126.85 L141.96,129.75 L139.06,132.65 L136.16,129.75Z" fill="#0f0"/>
<path d="M141.5,133.49 L144.4,136.39 L141.5,139.29 L138.6,136.39Z" fill="#0f0"/>
<path d="M143.96,138.83 L146.86,141.73 L143.96,144.63 L141.06,141.73Z" fill="#0f0"/>
<path d="M146.46,145.43 L149.36,148.33 L146.46,151.23 L143.56,148.33Z" fill="#0f0"/>
<path d="M149,151.8 L151.9,154.7 L149,157.6 L146.1,154.7Z" fill="#0f0"/>
<path d="M151.56,156.6 L154.46,159.5 L151.56,162.4 L148.66,159.5Z" fill="#0f0"/>
<path d="M154.16,160.55 L157.06,163.45 L154.16,166.35 L151.26,163.45Z" fill="#0f0"/>
<path d="M156.79,163.59 L159.69,166.49 L156.79,169.39 L153.89,166.49Z" fill="#0f0"/>
<path d="M159.46,166.12 L162.36,169.02 L159.46,171.92 L156.56,169.02Z" fill="#0f0"/>
<path d="M162.17,168.23 L165.07,171.13 L162.17,174.03 L159.27,171.13Z" fill="#0f0"/>
<path d="M164.91,170 L167.81,172.9 L164.91,175.8 L162.01,172.9Z" fill="#0f0"/>
<path d="M167.69,171.45 L170.59,174.35 L167.69,177.25 L164.79,174.35Z" fill="#0f0"/>
<path d="M170.51,172.56 L173.41,175.46 L170.51,178.36 L167.61,175.46Z" fill="#0f0"/>
<path d="M173.37,173.52 L176.27,176.42 L173.37,179.32 L170.47,176.42Z" fill="#0f0"/>
<path d="M176.27,174.36 L179.17,177.26 L176.27,180.16 L173.37,177.26Z" fill="#0f0"/>
<path d="M179.2,175.05 L182.1,177.95 L179.2,180.85 L176.3,177.95Z" fill="#0f0"/>
<path d="M182.18,175.6 L185.08,178.5 L182.18,181.4 L179.28,178.5Z" fill="#0f0"/>
<path d="M185.21,176.09 L188.11,178.99 L185.21,181.89 L182.31,178.99Z" fill="#0f0"/>
<path d="M188.27,176.54 L191.17,179.44 L188.27,182.34 L185.37,179.44Z" fill="#0f0"/>
<path d="M191.38,176.93 L194.28,179.83 L191.38,182.73 L188.48,179.83Z" fill="#0f0"/>
<path d="M194.54,177.27 L197.44,180.17 L194.54,183.07 L191.64,180.17Z" fill="#0f0"/>
<path d="M197.74,177.55 L200.64,180.45 L197.74,183.35 L194.84,180.45Z" fill="#0f0"/>
<path d="M200.99,177.76 L203.89,180.66 L200.99,183.56 L198.09,180.66Z" fill="#0f0"/>
<path d="M204.29,177.94 L207.19,180.84 L204.29,183.74 L201.39,180.84Z" fill="#0f0"/>
<path d="M207.64,178.11 L210.54,181.01 L207.64,183.91 L204.74,181.01Z" fill="#0f0"/>
<path d="M211.04,178.27 L213.94,181.17 L211.04,184.07 L208.14,181.17Z" fill="#0f0"/>
<path d="M214.49,178.41 L217.39,181.31 L214.49,184.21 L211.59,181.31Z" fill="#0f0"/>
<path d="M217.99,178.55 L220.89,181.45 L217.99,184.35 L215.09,181.45Z" fill="#0f0"/>
<path d="M221.55,178.67 L224.45,181.57 L221.55,184.47 L218.65,181.57Z" fill="#0f0"/>
<path d="M225.16,178.78 L228.06,181.68 L225.16,184.58 L222.26,181.68Z" fill="#0f0"/>
<path d="M228.83,178.88 L231.73,181.78 L228.83,184.68 L225.93,181.78Z" fill="#0f0"/>
<path d="M232.56,178.97 L235.46,181.87 L232.56,184.77 L229.66,181.87Z" fill="#0f0"/>
<path d="M236.35,179.04 L239.25,181.94 L236.35,184.84 L233.45,181.94Z" fill="#0f0"/>
<path d="M240.2,179.1 L243.1,182 L240.2,184.9 L237.3,182Z" fill="#0f0"/>
<path d="M244.11,179.16 L247.01,182.06 L244.11,184.96 L241.21,182.06Z" fill="#0f0"/>
<path d="M248.09,179.21 L250.99,182.11 L248.09,185.01 L245.19,182.11Z" fill="#0f0"/>
<path d="M252.13,179.26 L255.03,182.16 L252.13,185.06 L249.23,182.16Z" fill="#0f0"/>
<path d="M256.24,179.31 L259.14,182.21 L256.24,185.11 L253.34,182.21Z" fill="#0f0"/>
<path d="M260.42,179.35 L263.32,182.25 L260.42,185.15 L257.52,182.25Z" fill="#0f0"/>
<path d="M264.67,179.38 L267.57,182.28 L264.67,185.18 L261.77,182.28Z" fill="#0f0"/>
<path d="M268.99,179.4 L271.89,182.3 L268.99,185.2 L266.09,182.3Z" fill="#0f0"/>
<path d="M55,182.5 L55.5,182.41 L56,182.31 L56.5,182.21 L57,182.11 L57.5,182.01 L58,181.9 L58.5,181.8 L59,181.69 L59.5,181.58 L60,181.47 L60.5,181.35 L61,181.24 L61.5,181.12 L62,181 L62.5,180.88 L63,180.76 L63.5,180.63 L64,180.5 L64.5,180.38 L65,180.24 L65.5,180.11 L66,179.98 L66.5,179.84 L67,179.7 L67.5,179.56 L68,179.41 L68.5,179.26 L69,179.11 L69.5,178.96 L70,178.8 L70.5,178.64 L71,178.48 L71.5,178.31 L72,178.14 L72.5,177.96 L73,177.78 L73.5,177.6 L74,177.41 L74.5,177.22 L75,177.02 L75.5,176.81 L76,176.6 L76.5,176.38 L77,176.16 L77.5,175.93 L78,175.69 L78.5,175.44 L79,175.17 L79.5,174.89 L80,174.6 L80.5,174.29 L81,173.96 L81.5,173.62 L82,173.26 L82.5,172.88 L83,172.49 L83.5,172.09 L84,171.67 L84.5,171.24 L85,170.8 L85.5,170.35 L86,169.89 L86.5,169.42 L87,168.93 L87.5,168.42 L88,167.9 L88.5,167.35 L89,166.79 L89.5,166.2 L90,165.58 L90.5,164.94 L91,164.28 L91.5,163.57 L92,162.81 L92.5,161.99 L93,161.13 L93.5,160.23 L94,159.3 L94.5,158.37 L95,157.42 L95.5,156.43 L96,155.39 L96.5,154.33 L97,153.26 L97.5,152.18 L98,151.12 L98.5,150.09 L99,149.08 L99.5,148.08 L100,147.08 L100.5,146.06 L101,145 L101.5,143.87 L102,142.68 L102.5,141.48 L103,140.3 L103.5,139.21 L104,138.19 L104.5,137.22 L105,136.32 L105.5,135.5 L106,134.79 L106.5,134.15 L107,133.52 L107.5,132.86 L108,132.17 L108.5,131.45 L109,130.72 L109.5,129.99 L110,129.26 L110.5,128.53 L111,127.82 L111.5,127.13 L112,126.46 L112.5,125.77 L113,125.12 L113.5,124.52 L114,123.99 L114.5,123.45 L115,122.93 L115.5,122.55 L116,122.4 L116.5,122.73 L117,123.44 L117.5,124.12 L118,124.73 L118.5,125.35 L119,125.98 L119.5,126.61 L120,127.26 L120.5,127.89 L121,128.52 L121.5,129.15 L122,129.79 L122.5,130.44 L123,131.11 L123.5,131.81 L124,132.54 L124.5,133.32 L125,134.18 L125.5,135.11 L126,136.07 L126.5,137.03 L127,137.97 L127.5,138.84 L128,139.62 L128.5,140.36 L129,141.05 L129.5,141.73 L130,142.41 L130.5,143.11 L131,143.86 L131.5,144.67 L132,145.55 L132.5,146.49 L133,147.48 L133.5,148.51 L134,149.56 L134.5,150.63 L135,151.69 L135.5,152.73 L136,153.75 L136.5,154.74 L137,155.67 L137.5,156.6 L138,157.53 L138.5,158.45 L139,159.36 L139.5,160.25 L140,161.1 L140.5,161.92 L141,162.68 L141.5,163.4 L142,164.07 L142.5,164.71 L143,165.32 L143.5,165.91 L144,166.48 L144.5,167.03 L145,167.56 L145.5,168.08 L146,168.6 L146.5,169.1 L147,169.6 L147.5,170.1 L148,170.59 L148.5,171.08 L149,171.55 L149.5,172.01 L150,172.43 L150.5,172.83 L151,173.2 L151.5,173.54 L152,173.86 L152.5,174.17 L153,174.47 L153.5,174.75 L154,175.02 L154.5,175.29 L155,175.54 L155.5,175.79 L156,176.03 L156.5,176.27 L157,176.5 L157.5,176.73 L158,176.96 L158.5,177.18 L159,177.4 L159.5,177.61 L160,177.82 L160.5,178.02 L161,178.21 L161.5,178.4 L162,178.57 L162.5,178.74 L163,178.9 L163.5,179.05 L164,179.2 L164.5,179.34 L165,179.48 L165.5,179.61 L166,179.74 L166.5,179.86 L167,179.98 L167.5,180.09 L168,180.2 L168.5,180.3 L169,180.4 L169.5,180.5 L170,180.59 L170.5,180.68 L171,180.78 L171.5,180.87 L172,180.96 L172.5,181.05 L173,181.13 L173.5,181.22 L174,181.3 L174.5,181.38 L175,181.46 L175.5,181.54 L176,181.61 L176.5,181.68 L177,181.75 L177.5,181.82 L178,181.88 L178.5,181.94 L179,182 L179.5,182.06 L180,182.11 L180.5,182.16 L181,182.2 L181.5,182.24 L182,182.29 L182.5,182.33 L183,182.37 L183.5,182.41 L184,182.45 L184.5,182.49 L185,182.53 L185.5,182.57 L186,182.61 L186.5,182.65 L187,182.68 L187.5,182.72 L188,182.76 L188.5,182.79 L189,182.82 L189.5,182.86 L190,182.89 L190.5,182.92 L191,182.95 L191.5,182.98 L192,183.01 L192.5,183.04 L193,183.06 L193.5,183.09 L194,183.11 L194.5,183.13 L195,183.16 L195.5,183.18 L196,183.2 L196.5,183.21 L197,183.23 L197.5,183.25 L198,183.26 L198.5,183.27 L199,183.28 L199.5,183.29 L200,183.3 L200.5,183.31 L201,183.31 L201.5,183.32 L202,183.33 L202.5,183.34 L203,183.34 L203.5,183.35 L204,183.36 L204.5,183.36 L205,183.37 L205.5,183.38 L206,183.38 L206.5,183.39 L207,183.39 L207.5,183.4 L208,183.41 L208.5,183.41 L209,183.42 L209.5,183.42 L210,183.43 L210.5,183.43 L211,183.44 L211.5,183.45 L212,183.45 L212.5,183.46 L213,183.46 L213.5,183.47 L214,183.47 L214.5,183.48 L215,183.48 L215.5,183.49 L216,183.49 L216.5,183.49 L217,183.5 L217.5,183.5 L218,183.51 L218.5,183.51 L219,183.52 L219.5,183.52 L220,183.52 L220.5,183.53 L221,183.53 L221.5,183.53 L222,183.54 L222.5,183.54 L223,183.54 L223.5,183.55 L224,183.55 L224.5,183.55 L225,183.56 L225.5,183.56 L226,183.56 L226.5,183.56 L227,183.57 L227.5,183.57 L228,183.57 L228.5,183.57 L229,183.58 L229.5,183.58 L230,183.58 L230.5,183.58 L231,183.58 L231.5,183.59 L232,183.59 L232.5,183.59 L233,183.59 L233.5,183.59 L234,183.59 L234.5,183.59 L235,183.6 L235.5,183.6 L236,183.6 L236.5,183.6 L237,183.6 L237.5,183.6 L238,183.6 L238.5,183.6 L239,183.6 L239.5,183.6 L240,183.6 L240.5,183.6 L241,183.6 L241.5,183.6 L242,183.6 L242.5,183.6 L243,183.6 L243.5,183.6 L244,183.6 L244.5,183.6 L245,183.6 L245.5,183.6 L246,183.6 L246.5,183.6 L247,183.6 L247.5,183.6 L248,183.6 L248.5,183.6 L249,183.6 L249.5,183.6 L250,183.6 L250.5,183.6 L251,183.6 L251.5,183.6 L252,183.6 L252.5,183.6 L253,183.6 L253.5,183.6 L254,183.6 L254.5,183.6 L255,183.6 L255.5,183.6 L256,183.6 L256.5,183.6 L257,183.6 L257.5,183.6 L258,183.6 L258.5,183.6 L259,183.6 L259.5,183.6 L260,183.6 L260.5,183.6 L261,183.6 L261.5,183.6 L262,183.6 L262.5,183.6 L263,183.6 L263.5,183.6 L264,183.6 L264.5,183.6 L265,183.6 L265.5,183.6 L266,183.6 L266.5,183.6 L267,183.6 L267.5,183.6 L268,183.6 L268.5,183.6 L269,183.6 L269.5,183.6 L270,183.6 L270.5,183.6 L271,183.6 L271.5,183.6 L272,183.6" fill="none" stroke="#00f" stroke-width="0.8"/>
<path d="M52.73,180.1 L58.33,180.1 L55.53,184.9Z" fill="#00f"/>
<path d="M54.21,179.81 L59.81,179.81 L57.01,184.61Z" fill="#00f"/>
<path d="M55.7,179.5 L61.3,179.5 L58.5,184.3Z" fill="#00f"/>
<path d="M57.21,179.16 L62.81,179.16 L60.01,183.96Z" fill="#00f"/>
<path d="M58.74,178.81 L64.34,178.81 L61.54,183.61Z" fill="#00f"/>
<path d="M60.28,178.44 L65.88,178.44 L63.08,183.24Z" fill="#00f"/>
<path d="M61.84,178.04 L67.44,178.04 L64.64,182.84Z" fill="#00f"/>
<path d="M63.41,177.62 L69.01,177.62 L66.21,182.42Z" fill="#00f"/>
<path d="M65,177.17 L70.6,177.17 L67.8,181.97Z" fill="#00f"/>
<path d="M66.61,176.69 L72.21,176.69 L69.41,181.49Z" fill="#00f"/>
<path d="M68.23,176.17 L73.83,176.17 L71.03,180.97Z" fill="#00f"/>
<path d="M69.87,175.6 L75.47,175.6 L72.67,180.4Z" fill="#00f"/>
<path d="M71.53,174.98 L77.13,174.98 L74.33,179.78Z" fill="#00f"/>
<path d="M73.2,174.3 L78.8,174.3 L76,179.1Z" fill="#00f"/>
<path d="M74.89,173.54 L80.49,173.54 L77.69,178.34Z" fill="#00f"/>
<path d="M76.6,172.65 L82.2,172.65 L79.4,177.45Z" fill="#00f"/>
<path d="M78.33,171.57 L83.93,171.57 L81.13,176.37Z" fill="#00f"/>
<path d="M80.08,170.28 L85.68,170.28 L82.88,175.08Z" fill="#00f"/>
<path d="M81.85,168.81 L87.45,168.81 L84.65,173.61Z" fill="#00f"/>
<path d="M83.64,167.18 L89.24,167.18 L86.44,171.98Z" fill="#00f"/>
<path d="M85.44,165.34 L91.04,165.34 L88.24,170.14Z" fill="#00f"/>
<path d="M87.27,163.2 L92.87,163.2 L90.07,168Z" fill="#00f"/>
<path d="M89.12,160.64 L94.72,160.64 L91.92,165.44Z" fill="#00f"/>
<path d="M90.98,157.41 L96.58,157.41 L93.78,162.21Z" fill="#00f"/>
<path d="M92.87,153.78 L98.47,153.78 L95.67,158.58Z" fill="#00f"/>
<path d="M94.78,149.71 L100.38,149.71 L97.58,154.51Z" fill="#00f"/>
<path d="M96.71,145.76 L102.31,145.76 L99.51,150.56Z" fill="#00f"/>
<path d="M98.67,141.65 L104.27,141.65 L101.47,146.45Z" fill="#00f"/>
<path d="M100.64,137.02 L106.24,137.02 L103.44,141.82Z" fill="#00f"/>
<path d="M102.64,133.29 L108.24,133.29 L105.44,138.09Z" fill="#00f"/>
<path d="M104.67,130.61 L110.27,130.61 L107.47,135.41Z" fill="#00f"/>
<path d="M106.71,127.67 L112.31,127.67 L109.51,132.47Z" fill="#00f"/>
<path d="M108.78,124.72 L114.38,124.72 L111.58,129.52Z" fill="#00f"/>
<path d="M110.88,122.02 L116.48,122.02 L113.68,126.82Z" fill="#00f"/>
<path d="M113,120.13 L118.6,120.13 L115.8,124.93Z" fill="#00f"/>
<path d="M115.15,122.36 L120.75,122.36 L117.95,127.16Z" fill="#00f"/>
<path d="M117.32,125.11 L122.92,125.11 L120.12,129.91Z" fill="#00f"/>
<path d="M119.52,127.9 L125.12,127.9 L122.32,132.7Z" fill="#00f"/>
<path d="M121.74,131.09 L127.34,131.09 L124.54,135.89Z" fill="#00f"/>
<path d="M123.99,135.29 L129.59,135.29 L126.79,140.09Z" fill="#00f"/>
<path d="M126.28,138.85 L131.88,138.85 L129.08,143.65Z" fill="#00f"/>
<path d="M128.59,142.18 L134.19,142.18 L131.39,146.98Z" fill="#00f"/>
<path d="M130.92,146.68 L136.52,146.68 L133.72,151.48Z" fill="#00f"/>
<path d="M133.29,151.64 L138.89,151.64 L136.09,156.44Z" fill="#00f"/>
<path d="M135.69,156.13 L141.29,156.13 L138.49,160.93Z" fill="#00f"/>
<path d="M138.12,160.26 L143.72,160.26 L140.92,165.06Z" fill="#00f"/>
<path d="M140.58,163.47 L146.18,163.47 L143.38,168.27Z" fill="#00f"/>
<path d="M143.07,166.16 L148.67,166.16 L145.87,170.96Z" fill="#00f"/>
<path d="M145.59,168.68 L151.19,168.68 L148.39,173.48Z" fill="#00f"/>
<path d="M148.15,170.87 L153.75,170.87 L150.95,175.67Z" fill="#00f"/>
<path d="M150.74,172.47 L156.34,172.47 L153.54,177.27Z" fill="#00f"/>
<path d="M153.37,173.81 L158.97,173.81 L156.17,178.61Z" fill="#00f"/>
<path d="M156.03,175.02 L161.63,175.02 L158.83,179.82Z" fill="#00f"/>
<path d="M158.73,176.11 L164.33,176.11 L161.53,180.91Z" fill="#00f"/>
<path d="M161.46,176.97 L167.06,176.97 L164.26,181.77Z" fill="#00f"/>
<path d="M164.23,177.68 L169.83,177.68 L167.03,182.48Z" fill="#00f"/>
<path d="M167.04,178.26 L172.64,178.26 L169.84,183.06Z" fill="#00f"/>
<path d="M169.89,178.78 L175.49,178.78 L172.69,183.58Z" fill="#00f"/>
<path d="M172.78,179.25 L178.38,179.25 L175.58,184.05Z" fill="#00f"/>
<path d="M175.71,179.64 L181.31,179.64 L178.51,184.44Z" fill="#00f"/>
<path d="M178.68,179.94 L184.28,179.94 L181.48,184.74Z" fill="#00f"/>
<path d="M181.69,180.19 L187.29,180.19 L184.49,184.99Z" fill="#00f"/>
<path d="M184.74,180.42 L190.34,180.42 L187.54,185.22Z" fill="#00f"/>
<path d="M187.84,180.63 L193.44,180.63 L190.64,185.43Z" fill="#00f"/>
<path d="M190.99,180.8 L196.59,180.8 L193.79,185.6Z" fill="#00f"/>
<path d="M194.18,180.93 L199.78,180.93 L196.98,185.73Z" fill="#00f"/>
<path d="M197.42,181 L203.02,181 L200.22,185.8Z" fill="#00f"/>
<path d="M200.71,181.05 L206.31,181.05 L203.51,185.85Z" fill="#00f"/>
<path d="M204.04,181.09 L209.64,181.09 L206.84,185.89Z" fill="#00f"/>
<path d="M207.43,181.13 L213.03,181.13 L210.23,185.93Z" fill="#00f"/>
<path d="M210.87,181.17 L216.47,181.17 L213.67,185.97Z" fill="#00f"/>
<path d="M214.36,181.2 L219.96,181.2 L217.16,186Z" fill="#00f"/>
<path d="M217.9,181.23 L223.5,181.23 L220.7,186.03Z" fill="#00f"/>
<path d="M221.5,181.25 L227.1,181.25 L224.3,186.05Z" fill="#00f"/>
<path d="M225.16,181.27 L230.76,181.27 L227.96,186.07Z" fill="#00f"/>
<path d="M228.88,181.29 L234.48,181.29 L231.68,186.09Z" fill="#00f"/>
<path d="M232.65,181.3 L238.25,181.3 L235.45,186.1Z" fill="#00f"/>
<path d="M236.48,181.3 L242.08,181.3 L239.28,186.1Z" fill="#00f"/>
<path d="M240.38,181.3 L245.98,181.3 L243.18,186.1Z" fill="#00f"/>
<path d="M244.34,181.3 L249.94,181.3 L247.14,186.1Z" fill="#00f"/>
<path d="M248.37,181.3 L253.97,181.3 L251.17,186.1Z" fill="#00f"/>
<path d="M252.46,181.3 L258.06,181.3 L255.26,186.1Z" fill="#00f"/>
<path d="M256.62,181.3 L262.22,181.3 L259.42,186.1Z" fill="#00f"/>
<path d="M260.86,181.3 L266.46,181.3 L263.66,186.1Z" fill="#00f"/>
<path d="M265.16,181.3 L270.76,181.3 L267.96,186.1Z" fill="#00f"/>
<line x1="216" y1="19.8" x2="240.8" y2="19.8" stroke="#000" stroke-width="1"/>
<rect x="226.6" y="17.9" width="3.8" height="3.8" fill="#000"/>
<text x="243.2" y="23.7" class="lg" textLength="21.2" lengthAdjust="spacing">3nm</text>
<line x1="216" y1="33.4" x2="240.8" y2="33.4" stroke="#f00" stroke-width="1"/>
<circle cx="228.5" cy="33.4" r="2.1" fill="#f00"/>
<text x="243.2" y="37.3" class="lg" textLength="21.2" lengthAdjust="spacing">6nm</text>
<line x1="216" y1="47" x2="240.8" y2="47" stroke="#0f0" stroke-width="1"/>
<path d="M228.5,44.4 L231.1,47 L228.5,49.6 L225.9,47Z" fill="#0f0"/>
<text x="243.2" y="50.9" class="lg" textLength="21.2" lengthAdjust="spacing">9nm</text>
<line x1="216" y1="60.6" x2="240.8" y2="60.6" stroke="#00f" stroke-width="1"/>
<path d="M226.0,58.5 L231.0,58.5 L228.5,62.9Z" fill="#00f"/>
<text x="244" y="64.5" class="lg" textLength="27.0" lengthAdjust="spacing">12nm</text>
<path d="M289.0,232.8 H37.6 V437.6 H289.0" fill="none" stroke="#555" stroke-width="1.1"/>
<line x1="289.0" y1="232.8" x2="289.0" y2="437.6" stroke="#33f" stroke-width="1.1"/>
<path d="M60.53,437.6 v-2.5 M60.53,232.8 v2.5 M83.46,437.6 v-2.5 M83.46,232.8 v2.5 M106.39,437.6 v-2.5 M106.39,232.8 v2.5 M129.32,437.6 v-2.5 M129.32,232.8 v2.5 M152.25,437.6 v-2.5 M152.25,232.8 v2.5 M175.18,437.6 v-2.5 M175.18,232.8 v2.5 M198.11,437.6 v-2.5 M198.11,232.8 v2.5 M221.04,437.6 v-2.5 M221.04,232.8 v2.5 M243.97,437.6 v-2.5 M243.97,232.8 v2.5 M266.9,437.6 v-2.5 M266.9,232.8 v2.5 M37.6,253.28 h2 M37.6,273.76 h3.5 M37.6,294.24 h2 M37.6,314.72 h3.5 M37.6,335.2 h2 M37.6,355.68 h3.5 M37.6,376.16 h2 M37.6,396.64 h3.5 M37.6,417.12 h2" stroke="#333" stroke-width="1" fill="none"/>
<path d="M289.0,232.8 h3.5 M289.0,244.84 h2 M289.0,256.88 h3.5 M289.0,268.93 h2 M289.0,280.97 h3.5 M289.0,293.01 h2 M289.0,305.05 h3.5 M289.0,317.1 h2 M289.0,329.14 h3.5 M289.0,341.18 h2 M289.0,353.22 h3.5 M289.0,365.27 h2 M289.0,377.31 h3.5 M289.0,389.35 h2 M289.0,401.39 h3.5 M289.0,413.44 h2 M289.0,425.48 h3.5 M289.0,437.52 h2" stroke="#33f" stroke-width="1" fill="none"/>
<text x="20" y="235.5" class="tb" textLength="12.8" lengthAdjust="spacingAndGlyphs">1.2</text>
<text x="20" y="276.46" class="tb" textLength="12.8" lengthAdjust="spacingAndGlyphs">1.0</text>
<text x="20" y="317.42" class="tb" textLength="12.8" lengthAdjust="spacingAndGlyphs">0.8</text>
<text x="20" y="358.38" class="tb" textLength="12.8" lengthAdjust="spacingAndGlyphs">0.6</text>
<text x="20" y="399.34" class="tb" textLength="12.8" lengthAdjust="spacingAndGlyphs">0.4</text>
<text x="20" y="440.3" class="tb" textLength="12.8" lengthAdjust="spacingAndGlyphs">0.2</text>
<text x="35.1" y="448.9" class="tb" textLength="5.0" lengthAdjust="spacingAndGlyphs">2</text>
<text x="80.96" y="448.9" class="tb" textLength="5.0" lengthAdjust="spacingAndGlyphs">4</text>
<text x="126.82" y="448.9" class="tb" textLength="5.0" lengthAdjust="spacingAndGlyphs">6</text>
<text x="172.68" y="448.9" class="tb" textLength="5.0" lengthAdjust="spacingAndGlyphs">8</text>
<text x="216.04" y="448.9" class="tb" textLength="10.0" lengthAdjust="spacingAndGlyphs">10</text>
<text x="261.9" y="448.9" class="tb" textLength="10.0" lengthAdjust="spacingAndGlyphs">12</text>
<text x="295.7" y="235.5" class="tb tbr" textLength="17" lengthAdjust="spacingAndGlyphs">2.85</text>
<text x="295.7" y="259.58" class="tb tbr" textLength="17" lengthAdjust="spacingAndGlyphs">2.80</text>
<text x="295.7" y="283.67" class="tb tbr" textLength="17" lengthAdjust="spacingAndGlyphs">2.75</text>
<text x="295.7" y="307.75" class="tb tbr" textLength="17" lengthAdjust="spacingAndGlyphs">2.70</text>
<text x="295.7" y="331.84" class="tb tbr" textLength="17" lengthAdjust="spacingAndGlyphs">2.65</text>
<text x="295.7" y="355.93" class="tb tbr" textLength="17" lengthAdjust="spacingAndGlyphs">2.60</text>
<text x="295.7" y="380.01" class="tb tbr" textLength="17" lengthAdjust="spacingAndGlyphs">2.55</text>
<text x="295.7" y="404.1" class="tb tbr" textLength="17" lengthAdjust="spacingAndGlyphs">2.50</text>
<text x="295.7" y="428.18" class="tb tbr" textLength="17" lengthAdjust="spacingAndGlyphs">2.45</text>
<text x="116.6" y="465.5" class="lab" textLength="86.8" lengthAdjust="spacing">Well Width (nm)</text>
<text transform="translate(11.1,437.5) rotate(-90) scale(0.88,1)" class="lab2 lab3" textLength="73.2" lengthAdjust="spacing">Normalized</text>
<text transform="translate(11.1,371.7) rotate(-90) scale(0.88,1)" class="lab2 lab3" textLength="79.4" lengthAdjust="spacing">PL Intensity</text>
<text transform="translate(11.1,298.8) rotate(-90) scale(0.88,1)" class="lab2 lab3" textLength="71.1" lengthAdjust="spacing">(arb. units)</text>
<text transform="translate(328.2,418.9) rotate(-90) scale(0.85,1)" class="lab2 blu" textLength="179.3" lengthAdjust="spacing">Emission Peak energy (eV)</text>
<path d="M64.54,257.04 L126.46,318.96 M133.26,326.29 L194.94,397.91 M203.13,402.53 L261.97,412.47" fill="none" stroke="#33e" stroke-width="1"/>
<path d="M66.19,273.95 L123.71,277.55 M133.45,281.66 L193.55,336.24 M201.91,343.69 L262.39,396.61" fill="none" stroke="#222" stroke-width="0.9"/>
<circle cx="60.6" cy="273.6" r="3.3" fill="#fff" stroke="#333" stroke-width="1"/>
<circle cx="129.3" cy="277.9" r="3.3" fill="#fff" stroke="#333" stroke-width="1"/>
<circle cx="197.7" cy="340" r="3.3" fill="#fff" stroke="#333" stroke-width="1"/>
<circle cx="266.6" cy="400.3" r="3.3" fill="#fff" stroke="#333" stroke-width="1"/>
<rect x="57.3" y="249.8" width="7.4" height="7.4" fill="#00f"/>
<rect x="126.3" y="318.8" width="7.4" height="7.4" fill="#00f"/>
<rect x="194.5" y="398" width="7.4" height="7.4" fill="#00f"/>
<rect x="263.2" y="409.6" width="7.4" height="7.4" fill="#00f"/>
<text x="46.1" y="252.4" class="pl">(b)</text>
<path d="M70.8,277.3 Q56,280.6 43,281.5" fill="none" stroke="#222" stroke-width="1"/>
<path d="M39.3,281.7 L44,280.2 L43.8,283.1Z" fill="#222"/>
<path d="M240.8,417.9 Q252,427.8 264,426.4 Q272,425.6 277.5,423.5" fill="none" stroke="#33f" stroke-width="1.2"/>
<path d="M281.6,422.3 L276.2,421.8 L277.4,425.4Z" fill="#33f"/>
</svg>
</body></html>
